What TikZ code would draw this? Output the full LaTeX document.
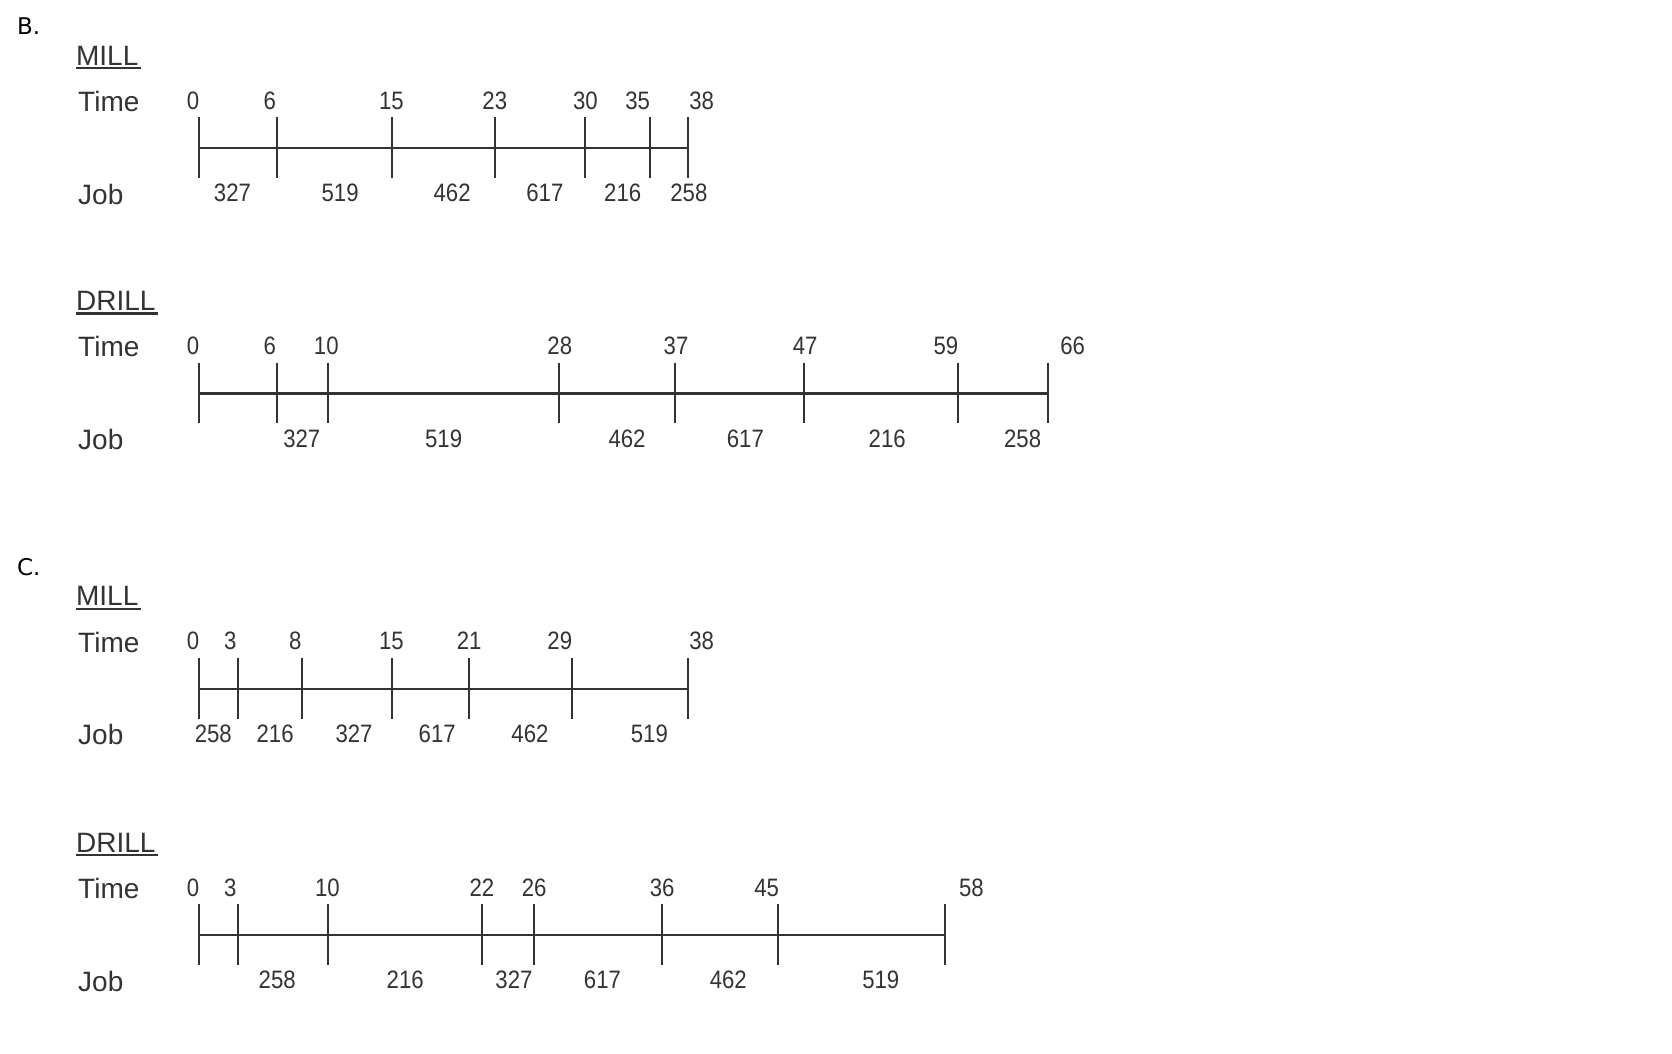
\documentclass[tikz,border=0pt]{standalone}
\usepackage{fontspec}
\setmainfont{Liberation Sans}
\newfontfamily\labfont{DejaVu Sans}
\definecolor{ink}{HTML}{333333}
\newcommand{\numtxt}[1]{\scalebox{0.88}[1]{#1}}
\begin{document}
\begin{tikzpicture}[x=0.53315pt,y=-0.53315pt,
  numlab/.style={inner sep=0pt,anchor=base,text=ink,font=\fontsize{12.6}{14}\selectfont},
  rowlab/.style={inner sep=0pt,anchor=base west,text=ink,font=\fontsize{14}{16}\selectfont},
  sectlab/.style={inner sep=0pt,anchor=base west,text=black,font=\labfont\fontsize{11.5}{13}\selectfont},
  tickline/.style={draw=ink,line width=1pt},
  axisline/.style={draw=ink,line width=1.1pt},
  uline/.style={draw=ink,line width=1.2pt}]
\useasboundingbox (0,0) rectangle (1568,988);
% chart macro: #1 name, #2 line y, #3 end value, #4 title, #5 ticks t/labelx, #6 jobs text/x
\newcommand{\gantt}[6]{%
  \node[rowlab] (#1-title) at (71,{#2-78}) {#4};
  \coordinate (#1-ua) at ([yshift=-3*0.53315pt]#1-title.base west);
  \coordinate (#1-ub) at ([xshift=2*0.53315pt,yshift=-3*0.53315pt]#1-title.base east);
  \draw[uline] (#1-ua) -- (#1-ub);
  \node[rowlab] (#1-time) at (73,{#2-34.3}) {Time};
  \node[rowlab] (#1-job) at (73,{#2+52.6}) {Job};
  \coordinate (#1-a) at (187,#2);
  \coordinate (#1-b) at ({187+12.06*#3},#2);
  \draw[axisline] (#1-a) -- (#1-b);
  \foreach \t/\lx in {#5} {
    \coordinate (#1-k\t) at ({187+12.06*\t},#2);
    \draw[tickline] (#1-k\t) ++(0,-29) -- ++(0,57);
    \node[numlab] (#1-t\t) at (\lx,{#2-36.6}) {\numtxt{\t}};
  }
  \foreach \j/\jx in {#6} {
    \node[numlab] (#1-j\j) at (\jx,{#2+50.3}) {\numtxt{\j}};
  }
}
\node[sectlab] (secB) at (15.7,32.8) {B.};
\node[sectlab] (secC) at (15.7,539.8) {C.};
\gantt{bm}{139}{38}{MILL}{0/181,6/253,15/367,23/464,30/549,35/598,38/658}{327/218,519/319,462/424,617/511,216/584,258/646}
\gantt{bd}{369}{66}{DRILL}{0/181,6/253,10/306,28/525,37/634,47/755,59/887,66/1006}{327/283,519/416,462/588,617/699,216/832,258/959}
\gantt{cm}{646}{38}{MILL}{0/181,3/216,8/277,15/367,21/440,29/525,38/658}{258/200,216/258,327/332,617/410,462/497,519/609}
\gantt{cd}{877}{58}{DRILL}{0/181,3/216,10/307,22/452,26/501,36/621,45/719,58/911}{258/260,216/380,327/482,617/565,462/683,519/826}
\end{tikzpicture}
\end{document}
